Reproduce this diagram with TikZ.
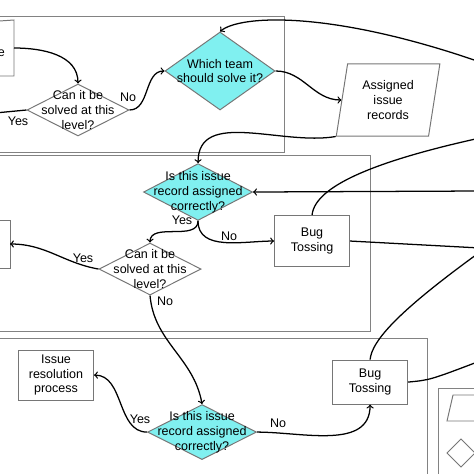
\documentclass[tikz,border=0pt]{standalone}
\usepackage{fontspec}
\setmainfont{Liberation Sans}
\usetikzlibrary{shapes.geometric, arrows}
\newcommand{\flowfont}{\fontsize{8.9}{10.5}\selectfont}
\definecolor{boxgray}{RGB}{118,118,118}
\definecolor{framegray}{RGB}{130,130,130}
\definecolor{qcyan}{RGB}{128,240,240}
\tikzstyle{decision} = [diamond, inner sep=0pt, draw=boxgray, line width=0.7pt, minimum width=2.55cm, minimum height=1.3cm]
\tikzstyle{cdecision} = [decision, fill=qcyan, minimum width=2.725cm, minimum height=1.42cm]
\tikzstyle{process} = [rectangle, draw=boxgray, line width=0.7pt, minimum width=1.875cm, minimum height=1.275cm, text centered, align=center, font=\flowfont]
\tikzstyle{data} = [trapezium, trapezium left angle=80, trapezium right angle=100, trapezium stretches=true, draw=boxgray, line width=0.7pt, minimum width=2.6cm, minimum height=1.8cm, align=center, font=\flowfont]
\tikzstyle{boxline} = [draw=boxgray, line width=0.7pt]
\tikzstyle{frame} = [draw=framegray, line width=0.7pt]
\tikzstyle{qtext} = [font=\flowfont, align=center, inner sep=0pt]
\tikzstyle{lbl} = [font=\flowfont, inner sep=0pt]
\tikzstyle{line} = [line width=0.9pt]
\tikzstyle{arrow} = [line width=0.9pt, ->, >=to]

\begin{document}
\begin{tikzpicture}[x=0.025cm, y=-0.025cm, node distance=1cm]
\useasboundingbox (0,0) rectangle (474,474);
\clip (0,0) rectangle (474,474);

% swim lanes
\draw [frame] (-10,16) rectangle (284,152);
\draw [frame] (-10,155) rectangle (370,331);
\draw [frame] (-10,338) rectangle (427,500);
\draw [frame] (438,388) rectangle (500,500);

% shapes cut by the border
\draw [boxline] (-30,23) -- (14,20) -- (14,76) -- (-30,76);
\node (reportT) [lbl, anchor=east] at (5,53) {e};
\coordinate (reportR) at (14,48);
\draw [boxline] (-10,220) -- (10,220) -- (10,268) -- (-10,268);
\coordinate (leftboxR) at (10,244);
\draw [boxline] (500,395) -- (453,395) -- (447,421) -- (500,421);
\draw [boxline] (447,453) -- (461,439) -- (475,453) -- (461,467) -- cycle;

% first level
\node (canA) [decision, label={[qtext]center:Can it be\\solved at this\\level?}] at (78,110) {};
\node (which) [cdecision, right of=canA, xshift=2.55cm, yshift=0.975cm, minimum width=2.75cm, minimum height=1.95cm, label={[qtext]center:Which team\\should solve it?}] {};
\node (assigned) [data, right of=which, xshift=3.2cm, yshift=-0.725cm] {Assigned\\issue\\records};

% second level
\node (isA) [cdecision, below of=which, xshift=-0.55cm, yshift=-2.025cm, label={[qtext]center:Is this issue\\record assigned\\correctly?}] {};
\node (bugA) [process, right of=isA, xshift=1.85cm, yshift=-1.225cm] {Bug\\Tossing};
\node (canB) [decision, below of=isA, xshift=-1.2cm, yshift=-0.925cm, label={[qtext]center:Can it be\\solved at this\\level?}] {};

% third level
\node (isB) [cdecision, below of=canB, xshift=1.3cm, yshift=-3.075cm, minimum height=1.375cm, label={[qtext]center:Is this issue\\record assigned\\correctly?}] {};
\node (resol) [process, left of=isB, xshift=-2.65cm, yshift=1.425cm, minimum height=1.175cm] {Issue\\resolution\\process};
\node (bugB) [process, right of=isB, xshift=3.2cm, yshift=1.25cm, minimum height=1.1cm] {Bug\\Tossing};

% off-picture ends
\coordinate (exitA) at (-5,113);
\coordinate (fromRight) at (480,62);
\coordinate (backA) at (480,191);
\coordinate (upA) at (480,138);
\coordinate (outA) at (480,248);
\coordinate (upB) at (480,252);
\coordinate (outB) at (480,361);

% connectors
\draw [arrow] (reportR) to[out=0, in=90] (canA.north);
\draw [line] (canA.west) -- (exitA);
\draw [arrow] (canA.east) to[out=0, in=180] (which.west);
\draw [arrow] (fromRight) .. controls (330,10) and (240,15) .. (which.north);
\draw [arrow] (which.east) to[out=0, in=180] (assigned.west);
\draw [arrow] (assigned.bottom left corner) to[out=190, in=90] (isA.north);
\draw [arrow] (backA) -- (isA.east);
\draw [arrow] (isA.south) to[out=-90, in=90] (canB.north);
\draw [arrow] (isA.south) to[out=-90, in=180] (bugA.west);
\draw [line] (bugA.north) .. controls (315,185) and (380,160) .. (upA);
\draw [line] (bugA.east) -- (outA);
\draw [arrow] (canB.west) to[out=170, in=0] (leftboxR);
\draw [arrow] (canB.south) to[out=-85, in=100] (isB.north);
\draw [arrow] (isB.west) to[out=180, in=0] (resol.east);
\draw [arrow] (isB.east) to[out=0, in=-90] (bugB.south);
\draw [line] (bugB.north) .. controls (372,340) and (400,310) .. (upB);
\draw [line] (bugB.east) .. controls (430,380) .. (outB);

% branch labels
\node (yesA) [lbl] at (18,121) {Yes};
\node (noA) [lbl] at (128,97) {No};
\node (yesB) [lbl] at (182,220) {Yes};
\node (noB) [lbl] at (229,236) {No};
\node (yesC) [lbl] at (83,258) {Yes};
\node (noC) [lbl] at (165,301) {No};
\node (yesD) [lbl] at (140,419) {Yes};
\node (noD) [lbl] at (278,423) {No};
\end{tikzpicture}
\end{document}
